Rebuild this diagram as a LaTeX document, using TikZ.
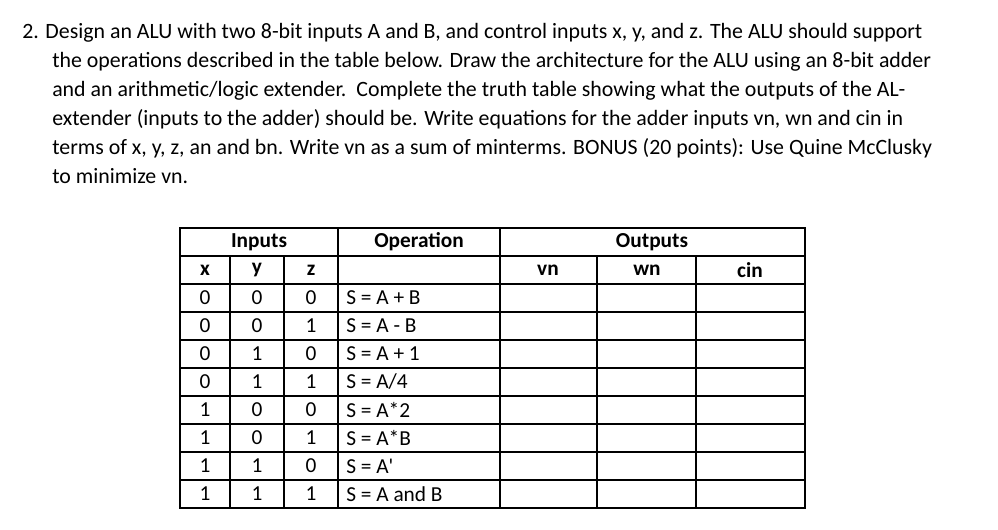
\documentclass[tikz,border=0pt]{standalone}
\usepackage{fontspec}
\setmainfont{Carlito}
\begin{document}
\begin{tikzpicture}[x=0.75pt,y=-0.75pt,
  para/.style={anchor=base west,inner sep=0,font=\fontsize{16.4}{18}\selectfont},
  cell/.style={anchor=center,inner sep=0,font=\fontsize{16}{18}\selectfont},
  hd/.style={cell,font=\fontsize{16}{18}\selectfont\bfseries},
  op/.style={anchor=west,inner sep=0,font=\fontsize{16}{18}\selectfont}]
\useasboundingbox (0,0) rectangle (998,529);
\node[para] (l1) at (22,38) {2. Design an ALU with two 8-bit inputs A and B, and control inputs x, y, and z. The ALU should support};
\node[para] (l2) at (52,67) {the operations described in the table below. Draw the architecture for the ALU using an 8-bit adder};
\node[para] (l3) at (52,96) {and an arithmetic/logic extender.\ \ Complete the truth table showing what the outputs of the AL-};
\node[para] (l4) at (52,125) {extender (inputs to the adder) should be. Write equations for the adder inputs vn, wn and cin in};
\node[para] (l5) at (52,154) {terms of x, y, z, an and bn. Write vn as a sum of minterms. BONUS (20 points): Use Quine McClusky};
\node[para] (l6) at (52,183) {to minimize vn.};
\draw[line width=0.9pt] (180,228) rectangle (805,508);
\foreach \i in {1,...,9} \draw[line width=0.9pt] (180,228+\i*28) -- (805,228+\i*28);
\draw[line width=0.9pt] (338,228) -- (338,508);
\draw[line width=0.9pt] (500,228) -- (500,508);
\foreach \xx in {230,284} \draw[line width=0.9pt] (\xx,256) -- (\xx,508);
\foreach \xx in {597,696} \draw[line width=0.9pt] (\xx,256) -- (\xx,508);
\node[hd] (hin) at (259,242) {Inputs};
\node[hd] (hop) at (419,242) {Operation};
\node[hd] (hout) at (652,242) {Outputs};
\node[hd] (hx) at (205,270) {x};
\node[hd] (hy) at (257,270) {y};
\node[hd] (hz) at (311,270) {z};
\node[hd] (hv) at (548,270) {vn};
\node[hd] (hw) at (647,270) {wn};
\node[hd] (hc) at (750,270) {cin};
\foreach \a/\b/\c/\o [count=\k from 0] in {0/0/0/{S = A + B},0/0/1/{S = A - B},0/1/0/{S = A + 1},0/1/1/{S = A/4},1/0/0/{S = A*2},1/0/1/{S = A*B},1/1/0/{S = A\textquotesingle},1/1/1/{S = A and B}}{
  \node[cell] (x\k) at (205,298+\k*28) {\a};
  \node[cell] (y\k) at (257,298+\k*28) {\b};
  \node[cell] (z\k) at (311,298+\k*28) {\c};
  \node[op] (o\k) at (346,298+\k*28) {\o};
}
\end{tikzpicture}
\end{document}
